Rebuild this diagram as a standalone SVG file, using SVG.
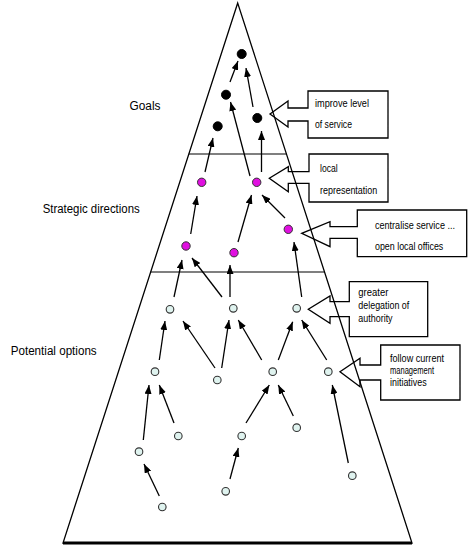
<svg xmlns="http://www.w3.org/2000/svg" width="474" height="545" viewBox="0 0 474 545">
<defs>
<style>
.frame{fill:none;stroke:#000;stroke-width:1.3}
.c{stroke:#000;stroke-width:1.3;fill:none;marker-end:url(#ah)}
.g{fill:#000;stroke:#000;stroke-width:1}
.s{fill:#e010e0;stroke:#333;stroke-width:1}
.p{fill:#dff3ef;stroke:#333;stroke-width:1.1}
.call{fill:none;stroke:#000;stroke-width:1.3}
.lbl{font-family:"Liberation Sans",Arial,sans-serif;font-size:12.5px;fill:#000}
.bt{font-family:"Liberation Sans",Arial,sans-serif;font-size:11.5px;fill:#000}
</style>
<marker id="ah" markerUnits="userSpaceOnUse" markerWidth="9" markerHeight="7" refX="9" refY="3.5" orient="auto">
<path d="M0,0 L9,3.5 L0,7 z" fill="#000"/>
</marker>
</defs>
<rect width="474" height="545" fill="#fff"/>
<g id="pyramid">
<polygon class="frame" points="237.7,3 63,543 412,543"/>
<line x1="63" y1="543" x2="412" y2="543" stroke="#000" stroke-width="3"/>
<line x1="188.8" y1="154" x2="286.6" y2="154" stroke="#000" stroke-width="1.2"/>
<line x1="150.7" y1="272" x2="324.5" y2="272" stroke="#000" stroke-width="1.2"/>
</g>
<g id="labels">
<text class="lbl" x="129.5" y="109.5" textLength="31" lengthAdjust="spacingAndGlyphs">Goals</text>
<text class="lbl" x="42.7" y="212.8" textLength="97" lengthAdjust="spacingAndGlyphs">Strategic directions</text>
<text class="lbl" x="10.7" y="355.3" textLength="86" lengthAdjust="spacingAndGlyphs">Potential options</text>
</g>
<g id="connectors">
<line class="c" x1="230" y1="82" x2="238" y2="61"/>
<line class="c" x1="253" y1="107" x2="246" y2="68"/>
<line class="c" x1="250" y1="176" x2="230.5" y2="102"/>
<line class="c" x1="261.5" y1="172" x2="261.5" y2="131"/>
<line class="c" x1="205" y1="172" x2="213" y2="138"/>
<line class="c" x1="190.7" y1="234" x2="197" y2="196"/>
<line class="c" x1="238" y1="242" x2="251.5" y2="195"/>
<line class="c" x1="285" y1="218" x2="262" y2="195"/>
<line class="c" x1="174" y1="297" x2="182" y2="260"/>
<line class="c" x1="222" y1="297" x2="192" y2="258"/>
<line class="c" x1="230" y1="297" x2="230" y2="265"/>
<line class="c" x1="301.7" y1="297" x2="294" y2="242"/>
<line class="c" x1="159.3" y1="360" x2="165" y2="321"/>
<line class="c" x1="215" y1="368" x2="183" y2="321"/>
<line class="c" x1="221.7" y1="368" x2="229" y2="320"/>
<line class="c" x1="261.7" y1="360" x2="238.3" y2="320"/>
<line class="c" x1="278.3" y1="360" x2="292.7" y2="321.7"/>
<line class="c" x1="326.7" y1="360" x2="301.7" y2="320"/>
<line class="c" x1="143.3" y1="440" x2="149" y2="385"/>
<line class="c" x1="174" y1="423" x2="159.3" y2="385"/>
<line class="c" x1="246" y1="423" x2="269.3" y2="385"/>
<line class="c" x1="293.3" y1="416" x2="278.3" y2="385"/>
<line class="c" x1="348.3" y1="463" x2="332.3" y2="385"/>
<line class="c" x1="230" y1="479" x2="238.3" y2="448"/>
<line class="c" x1="159.3" y1="496" x2="144" y2="464"/>
</g>
<g id="goal-nodes">
<circle id="g1" class="g" cx="241.7" cy="54" r="4.5"/>
<circle id="g2" class="g" cx="226" cy="94.7" r="4.5"/>
<circle id="g3" class="g" cx="217.7" cy="126.3" r="4.5"/>
<circle id="g4" class="g" cx="257.3" cy="118" r="4.5"/>
</g>
<g id="strategic-nodes">
<circle id="s1" class="s" cx="201.7" cy="182.3" r="4.2"/>
<circle id="s2" class="s" cx="256.7" cy="182.3" r="4.2"/>
<circle id="s3" class="s" cx="288.3" cy="229.3" r="4.2"/>
<circle id="s4" class="s" cx="186" cy="246" r="4.2"/>
<circle id="s5" class="s" cx="234" cy="252.7" r="4.2"/>
</g>
<g id="option-nodes">
<circle id="p1" class="p" cx="170" cy="309.3" r="3.8"/>
<circle id="p2" class="p" cx="233.3" cy="308.3" r="3.8"/>
<circle id="p3" class="p" cx="296.7" cy="308.3" r="3.8"/>
<circle id="p4" class="p" cx="155" cy="371.7" r="3.8"/>
<circle id="p5" class="p" cx="217.3" cy="380" r="3.8"/>
<circle id="p6" class="p" cx="272.7" cy="371.7" r="3.8"/>
<circle id="p7" class="p" cx="328.3" cy="371.7" r="3.8"/>
<circle id="p8" class="p" cx="178.3" cy="436" r="3.8"/>
<circle id="p9" class="p" cx="241.7" cy="436" r="3.8"/>
<circle id="p10" class="p" cx="296.7" cy="427.7" r="3.8"/>
<circle id="p11" class="p" cx="139" cy="451.7" r="3.8"/>
<circle id="p12" class="p" cx="352.3" cy="475.7" r="3.8"/>
<circle id="p13" class="p" cx="225.7" cy="491.3" r="3.8"/>
<circle id="p14" class="p" cx="162.3" cy="507" r="3.8"/>
</g>
<g id="callout-goal">
<path class="call" d="M308,91 H388 V138 H308 V121 H288 V127 L270,114 L288,101 V108 H308 Z"/>
<text class="bt" x="315" y="107" textLength="54" lengthAdjust="spacingAndGlyphs">improve level</text>
<text class="bt" x="315" y="127.5" textLength="37" lengthAdjust="spacingAndGlyphs">of service</text>
</g>
<g id="callout-local">
<path class="call" d="M309,154 H388 V202 H309 V183.3 H288.3 V191.7 L269.3,178.3 L288.3,166.7 V171.7 H309 Z"/>
<text class="bt" x="320" y="172" textLength="17.7" lengthAdjust="spacingAndGlyphs">local</text>
<text class="bt" x="320" y="194" textLength="57.3" lengthAdjust="spacingAndGlyphs">representation</text>
</g>
<g id="callout-centralise">
<path class="call" d="M357.3,210 H466.7 V256.7 H357.3 V238.3 H330 V246.7 L301.7,233.3 L330,221.7 V226.7 H357.3 Z"/>
<text class="bt" x="375" y="229" style="font-size:10.5px" textLength="80" lengthAdjust="spacingAndGlyphs">centralise service ...</text>
<text class="bt" x="375" y="250" textLength="68.3" lengthAdjust="spacingAndGlyphs">open local offices</text>
</g>
<g id="callout-delegation">
<path class="call" d="M349.3,281.7 H427.7 V336.7 H349.3 V316.7 H330 V323.3 L308.3,309.3 L330,296 V301.7 H349.3 Z"/>
<text class="bt" x="358.3" y="296" textLength="30" lengthAdjust="spacingAndGlyphs">greater</text>
<text class="bt" x="358.3" y="309" textLength="51" lengthAdjust="spacingAndGlyphs">delegation of</text>
<text class="bt" x="358.3" y="322" textLength="34.3" lengthAdjust="spacingAndGlyphs">authority</text>
</g>
<g id="callout-management">
<path class="call" d="M380.7,345 H460 V400 H380.7 V380 H360 V386.7 L340,371.7 L360,358.3 V365 H380.7 Z"/>
<text class="bt" x="390" y="361.5" textLength="54" lengthAdjust="spacingAndGlyphs">follow current</text>
<text class="bt" x="390" y="374" textLength="44" lengthAdjust="spacingAndGlyphs">management</text>
<text class="bt" x="390" y="386" textLength="36.7" lengthAdjust="spacingAndGlyphs">initiatives</text>
</g>
</svg>
